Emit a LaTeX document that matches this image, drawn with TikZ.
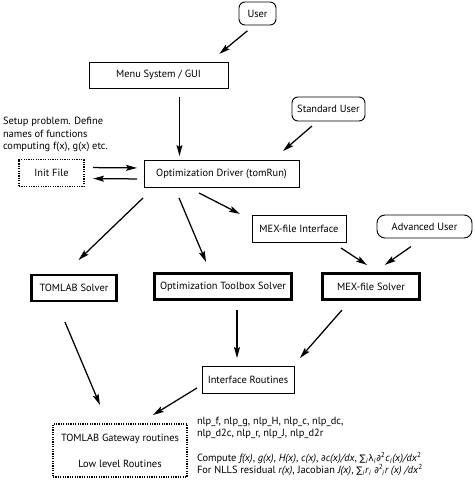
\documentclass[tikz,border=0pt]{standalone}
\usepackage{fontspec}
\setmainfont{PT Sans}
\newfontfamily\symfont{DejaVu Sans}
\usetikzlibrary{arrows.meta,calc}
\begin{document}
\begin{tikzpicture}[x=1pt,y=-1pt,
  box/.style={draw, line width=0.9pt, inner sep=0pt, outer sep=0pt, font=\fontsize{10.4}{12}\selectfont},
  thickbox/.style={box, line width=2.6pt},
  ubox/.style={box, rounded corners=6pt},
  dotbox/.style={box, line width=1.3pt, dash pattern=on 1.2pt off 1.2pt},
  plain/.style={inner sep=0pt, outer sep=0pt, align=left, font=\fontsize{10.4}{12}\selectfont},
  arr/.style={-{Stealth[length=11pt,width=6pt,inset=2pt]}, line width=1.25pt}]
\useasboundingbox (0,0) rectangle (474,482);

\node[ubox, minimum width=37pt, minimum height=23pt] (user) at (257.5,13.5) {User};
\node[box, minimum width=139pt, minimum height=26pt] (menu) at (158.5,75) {Menu System / GUI};
\node[ubox, minimum width=73pt, minimum height=24pt] (std) at (328.5,109) {Standard User};
\node[box, minimum width=155pt, minimum height=27pt] (driver) at (221.5,173.5) {Optimization Driver (tomRun)};
\node[dotbox, minimum width=65pt, minimum height=27pt] (init) at (51.5,173) {Init File};
\node[box, minimum width=94pt, minimum height=27pt] (mexif) at (299,228.5) {MEX-file Interface};
\node[ubox, rounded corners=8pt, minimum width=95pt, minimum height=23pt] (adv) at (424.5,226.5) {Advanced User};
\node[thickbox, minimum width=85pt, minimum height=26pt] (tomlab) at (74,288) {TOMLAB Solver};
\node[thickbox, minimum width=137pt, minimum height=26pt] (opttb) at (223,286.5) {Optimization Toolbox Solver};
\node[thickbox, minimum width=97pt, minimum height=26pt] (mexsol) at (371,286.5) {MEX-file Solver};
\node[box, minimum width=92pt, minimum height=27pt] (iface) at (248,379.5) {Interface Routines};
\node[dotbox, minimum width=134pt, minimum height=53pt, align=center] (gate) at (120,450.5)
  {TOMLAB Gateway routines\\[14pt]Low level Routines};

\node[plain, anchor=north west, font=\fontsize{10.4}{12.5}\selectfont] (setup) at (3,117.5)
  {Setup problem. Define\\names of functions\\computing f(x), g(x) etc.};

\node[plain, anchor=north west] (desc) at (197,417)
  {nlp\_f, nlp\_g, nlp\_H, nlp\_c, nlp\_dc,\\
   nlp\_d2c, nlp\_r, nlp\_J, nlp\_d2r\\[13pt]
   Compute \textit{f(x)}, \textit{g(x)}, \textit{H(x)}, \textit{c(x)}, {\symfont\small ∂}\textit{c(x)/dx}, {\symfont\small ∑}\textsubscript{\textit{i}}{\symfont\small λ}\textsubscript{\textit{i}}{\symfont\small ∂}\textsuperscript{2}\textit{c}\textsubscript{\textit{i}}\textit{(x)/dx}\textsuperscript{2}\\
   For NLLS residual \textit{r(x)}, Jacobian \textit{J(x)}, {\symfont\small ∑}\textsubscript{\textit{i}}\textit{r}\textsubscript{\textit{i}} {\symfont\small ∂}\textsuperscript{2}\textsubscript{\!\textit{i}}\textit{r (x) /dx}\textsuperscript{2}};

\draw[arr, shorten <=9.2pt, shorten >=12.8pt] ([xshift=-3pt]user.south) -- ([xshift=51pt]menu.north);
\draw[arr, shorten <=9pt, shorten >=4pt] ([xshift=21pt]menu.south) -- ([xshift=-42pt]driver.north);
\draw[arr, shorten <=7.7pt, shorten >=13.7pt] ([xshift=-10.7pt]std.south) -- ([xshift=51.1pt]driver.north);
\draw[arr, shorten <=9pt, shorten >=7pt] ([yshift=5.5pt]init.east) -- ([yshift=5.5pt]driver.west);
\draw[arr, shorten <=7pt, shorten >=9pt] ([yshift=-5.5pt]driver.west) -- ([yshift=-5.5pt]init.east);
\draw[arr, shorten <=15.8pt, shorten >=21.6pt] ([xshift=-67.1pt]driver.south) -- ([xshift=-11pt]tomlab.north);
\draw[arr, shorten <=11.9pt, shorten >=12.5pt] ([xshift=-47.1pt]driver.south) -- ([xshift=-12.1pt]opttb.north);
\draw[arr, shorten <=13.2pt, shorten >=13.5pt] ([xshift=-34.2pt]driver.south) -- ([yshift=8.4pt]mexif.west);
\draw[arr, shorten <=11pt, shorten >=15.5pt] ([xshift=32.8pt]mexif.south) -- ([xshift=9pt]mexsol.north);
\draw[arr, shorten <=15pt, shorten >=15.1pt] ([xshift=-1.3pt]adv.south) -- ([xshift=1.5pt]mexsol.north);
\draw[arr, shorten <=10.5pt, shorten >=8pt] ([xshift=14pt]opttb.south) -- ([xshift=-11pt]iface.north);
\draw[arr, shorten <=14pt, shorten >=10.6pt] ([xshift=-19.8pt]mexsol.south) -- ([xshift=45pt]iface.north);
\draw[arr, shorten <=22.8pt, shorten >=20.6pt] ([xshift=-17.9pt]tomlab.south) -- ([xshift=-12pt]gate.north);
\draw[arr, shorten <=5.9pt, shorten >=17.2pt] ([yshift=-5.4pt]iface.west) -- ([xshift=18.3pt]gate.north);
\end{tikzpicture}
\end{document}
